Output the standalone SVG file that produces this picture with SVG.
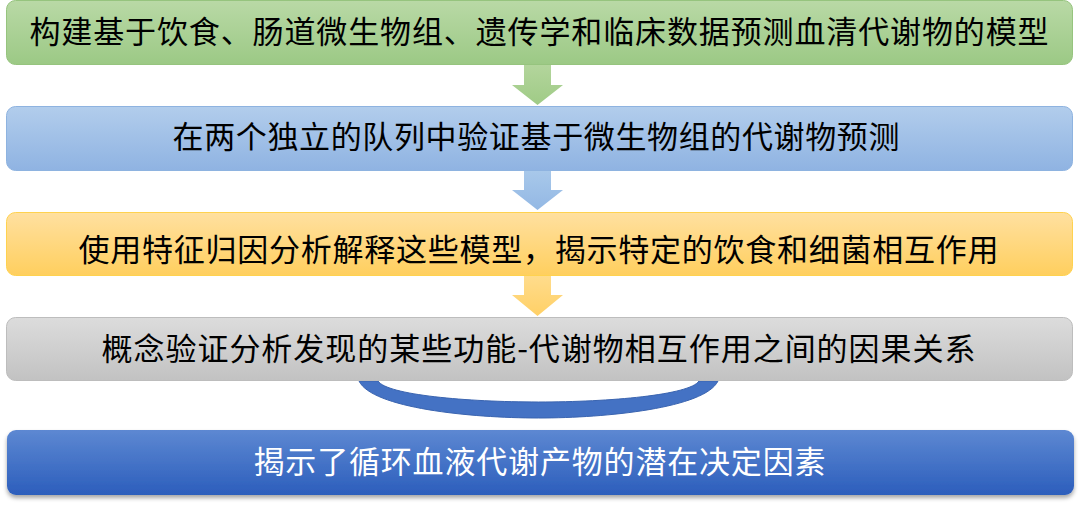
<svg xmlns="http://www.w3.org/2000/svg" width="1080" height="509" viewBox="0 0 1080 509">
<defs>
<linearGradient id="gGreen" x1="0" y1="0" x2="0" y2="1"><stop offset="0" stop-color="#b9d9a6"/><stop offset="1" stop-color="#9cc985"/></linearGradient>
<linearGradient id="gBlue" x1="0" y1="0" x2="0" y2="1"><stop offset="0" stop-color="#b2cdec"/><stop offset="1" stop-color="#8fb3e2"/></linearGradient>
<linearGradient id="gYellow" x1="0" y1="0" x2="0" y2="1"><stop offset="0" stop-color="#ffe0a0"/><stop offset="1" stop-color="#ffcf5e"/></linearGradient>
<linearGradient id="gGrey" x1="0" y1="0" x2="0" y2="1"><stop offset="0" stop-color="#dcdcdc"/><stop offset="1" stop-color="#c2c2c2"/></linearGradient>
<linearGradient id="gDeep" x1="0" y1="0" x2="0" y2="1"><stop offset="0" stop-color="#5d88d2"/><stop offset="1" stop-color="#2c5ebc"/></linearGradient>
<linearGradient id="aGreen" x1="0" y1="0" x2="0" y2="1"><stop offset="0" stop-color="#b3d59c"/><stop offset="1" stop-color="#9fcb86"/></linearGradient>
<linearGradient id="aBlue" x1="0" y1="0" x2="0" y2="1"><stop offset="0" stop-color="#a8c8ea"/><stop offset="1" stop-color="#93b8e4"/></linearGradient>
<linearGradient id="aYellow" x1="0" y1="0" x2="0" y2="1"><stop offset="0" stop-color="#ffdc8c"/><stop offset="1" stop-color="#ffd066"/></linearGradient>
<filter id="shadow" x="-5%" y="-20%" width="110%" height="150%"><feDropShadow dx="0" dy="3" stdDeviation="2" flood-color="#000" flood-opacity="0.35"/></filter>
</defs>
<style>
.t{font-family:"Noto Sans CJK SC","Noto Sans",sans-serif;font-size:31px;text-anchor:middle;fill:#000}
.w{fill:#fff}
</style>
<g id="connectors">
<polygon points="524,65 551,65 551,85 563,85 537.5,105 512,85 524,85" fill="url(#aGreen)"/>
<polygon points="524,171 551,171 551,190 563,190 537.5,210 512,190 524,190" fill="url(#aBlue)"/>
<polygon points="524,276 551,276 551,295 563,295 537.5,316 512,295 524,295" fill="url(#aYellow)"/>
<path d="M359,381 C372,408 470,418 538.5,418 C607,418 705,408 718,381 L699,381 C690,395 610,402 538.5,402 C467,402 387,395 378,381 Z" fill="#4472c4" stroke="#3a64b0" stroke-width="1"/>
</g>
<g id="n1">
<rect x="6.5" y="0.5" width="1066" height="64" rx="9" fill="url(#gGreen)" stroke="#96c47e" stroke-width="1"/>
<text class="t" x="539" y="43" textLength="1019" lengthAdjust="spacing">构建基于饮食、肠道微生物组、遗传学和临床数据预测血清代谢物的模型</text>
</g>
<g id="n2">
<rect x="6.5" y="106.5" width="1066" height="64" rx="9" fill="url(#gBlue)" stroke="#8eb3e0" stroke-width="1"/>
<text class="t" x="536" y="148" textLength="727" lengthAdjust="spacing">在两个独立的队列中验证基于微生物组的代谢物预测</text>
</g>
<g id="n3">
<rect x="6.5" y="212.5" width="1066" height="63" rx="9" fill="url(#gYellow)" stroke="#ffd24f" stroke-width="1"/>
<text class="t" x="538.5" y="261" textLength="920" lengthAdjust="spacing">使用特征归因分析解释这些模型，揭示特定的饮食和细菌相互作用</text>
</g>
<g id="n4">
<rect x="6.5" y="317.5" width="1066" height="63" rx="9" fill="url(#gGrey)" stroke="#bdbdbd" stroke-width="1"/>
<text class="t" x="538.5" y="360" textLength="874" lengthAdjust="spacing">概念验证分析发现的某些功能-代谢物相互作用之间的因果关系</text>
</g>
<g id="n5">
<rect x="7" y="430" width="1067" height="65" rx="9" fill="url(#gDeep)" filter="url(#shadow)"/>
<text class="t w" x="539.5" y="473" textLength="572" lengthAdjust="spacing">揭示了循环血液代谢产物的潜在决定因素</text>
</g>
</svg>
